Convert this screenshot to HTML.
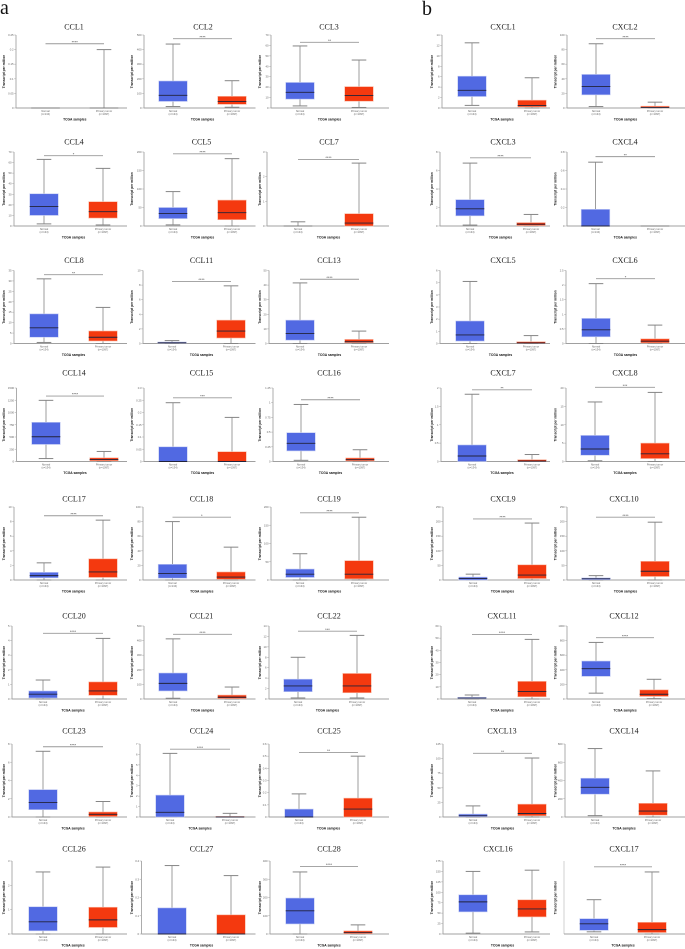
<!DOCTYPE html>
<html lang="en">
<head>
<meta charset="utf-8">
<title>CCL and CXCL transcript expression box plots</title>
<style>
html,body{margin:0;padding:0;background:#fff;width:685px;height:949px;overflow:hidden}
svg{display:block;filter:blur(.2px)}
.title{font-family:"Liberation Serif",serif;font-size:8px;fill:#222;text-anchor:middle}
.letter{font-family:"Liberation Serif",serif;font-size:20px;fill:#111}
.tick{font-family:"Liberation Sans",sans-serif;font-size:2.8px;fill:#666;text-anchor:end}
.cat{font-family:"Liberation Sans",sans-serif;font-size:2.6px;fill:#666;text-anchor:middle}
.xt{font-family:"Liberation Sans",sans-serif;font-size:3.3px;font-weight:bold;fill:#111;text-anchor:middle}
.yt{font-family:"Liberation Sans",sans-serif;font-size:3.3px;font-weight:bold;fill:#111;text-anchor:middle}
.sig{font-family:"Liberation Sans",sans-serif;font-size:4px;fill:#444;text-anchor:middle}
</style>
</head>
<body>
<svg id="figure" xmlns="http://www.w3.org/2000/svg" width="685" height="949" viewBox="0 0 685 949">
<rect width="685" height="949" fill="#fff"/>
<text class="letter" x="0" y="14">a</text>
<text class="letter" x="422" y="15">b</text>
</svg>
<script>
/* ---------- data (row by row, five charts per row) ---------- */
const geneNames = [
  'CCL1','CCL2','CCL3','CXCL1','CXCL2',
  'CCL4','CCL5','CCL7','CXCL3','CXCL4',
  'CCL8','CCL11','CCL13','CXCL5','CXCL6',
  'CCL14','CCL15','CCL16','CXCL7','CXCL8',
  'CCL17','CCL18','CCL19','CXCL9','CXCL10',
  'CCL20','CCL21','CCL22','CXCL11','CXCL12',
  'CCL23','CCL24','CCL25','CXCL13','CXCL14',
  'CCL26','CCL27','CCL28','CXCL16','CXCL17'
];
const categories = ['Normal','Primary tumor'];
const categoryCounts = ['(n=134)','(n=1097)'];
const yMaxValues = [
  0.25,500,70,14,100,
  70,200,3,8,0.8,
  35,10,50,6,2.5,
  1500,0.3,1.25,2,20,
  10,100,200,250,250,
  5,500,14,60,1000,
  8,7,0.6,125,800,
  3,0.4,400,175,100
];
const tickSteps = [
  0.05,100,10,2,20,
  10,50,1,2,0.2,
  5,2,10,1,0.5,
  250,0.05,0.25,0.5,5,
  2,20,50,50,50,
  1,100,2,10,200,
  2,1,0.1,25,200,
  1,0.1,100,25,0
];
/* each box: [min, q1, median, q3, max] */
const normalBoxes = [
  [0,0,0,0,0],[10,45,87,185,438],[2,8.5,15,24.5,59.5],[0.5,2.2,3.4,6.1,12.5],[2,18,29.5,46,88],
  [2,10,18.5,30.5,63],[3,20,34,50,93],[0,0,0,0,0.17],[0.1,1.1,1.86,2.85,6.8],[0,0,0,0.18,0.69],
  [0.5,3,7.5,14.2,31],[0,0.05,0.1,0.2,0.4],[0,2.3,6.8,16,41.5],[0,0.2,0.7,1.85,5.1],[0,0.23,0.47,0.86,2.05],
  [60,348,505,800,1248],[0,0,0,0.06,0.24],[0.02,0.18,0.31,0.49,0.97],[0,0,0.15,0.45,1.83],[0.2,1.7,3.4,7.1,16.2],
  [0,0.3,0.6,1.05,2.35],[0,2.5,9,21.5,80],[0,7,16,30,72],[0,0,5,10,20],[0,1,4,7,15],
  [0,0.07,0.33,0.55,1.3],[5,55,107,178,412],[0.2,1.4,2.5,3.8,8],[0,0.3,0.8,1.4,3.3],[80,310,415,520,775],
  [0,0.8,1.6,3,7.2],[0,0,0.45,2.1,6.1],[0,0,0,0.065,0.19],[0,0.5,2,5,19],[15,250,325,425,750],
  [0,0.13,0.5,1.12,2.55],[0,0,0,0.143,0.375],[0,55,127,197,340],[2,53,77,94,150],[3,5,14,21,47]
];
const tumorBoxes = [
  [0,0,0,0,0.2],[5,25,45,80,187],[0.5,6.5,12,20.5,46],[0,0.2,0.5,1.5,5.8],[0,0.2,0.8,2.5,8],
  [1,7.5,13.5,23,54.5],[0,17,36,70,182],[0,0,0.12,0.5,2.55],[0,0.05,0.2,0.37,1.25],[0,0,0,0,0],
  [0,1.2,3,6,17.3],[0,0.75,1.7,3.2,7.9],[0,0.5,1.2,2.8,8.5],[0,0.02,0.05,0.15,0.65],[0,0.02,0.08,0.16,0.63],
  [0,15,40,75,205],[0,0,0,0.04,0.18],[0,0.01,0.03,0.06,0.2],[0,0,0.01,0.05,0.19],[0,0.8,2.1,5,18.8],
  [0,0.35,1.1,2.9,8.2],[0,1,4,11,45],[0,3,16,53,172],[0,5,17,52,195],[0,12,30,64,198],
  [0,0.25,0.55,1.17,4.15],[0,3,12,27,82],[0.2,1.2,2.5,4.9,12.2],[0,1.8,6.2,14.5,49],[5,35,65,125,270],
  [0,0.05,0.3,0.55,1.7],[0,0,0,0.05,0.35],[0,0,0.065,0.155,0.5],[0,2,6,22,101],[0,20,65,150,505],
  [0,0.27,0.58,1.1,2.75],[0,0,0,0.105,0.32],[0,2,7,17,50],[5,41,60,82,153],[0,2,6,16,85]
];
const significanceLabels = [
  '****','****','**','','****',
  '*','****','****','****','**',
  '**','****','****','','*',
  '****','***','****','**','***',
  '****','*','****','****','****',
  '****','****','***','****','****',
  '****','****','**','**','',
  '','','****','','****'
];
const significanceLevels = [
  0.22,475,63,0,95,
  66.5,195,2.7,7.37,0.75,
  33,8.5,44,0,2.22,
  1335,0.26,1.05,1.95,20.2,
  8.8,86,184,209,215,
  4.5,443,13,53,840,
  7.7,6.5,0.53,109,0,
  0,0,370,0,92
];

/* ---------- page layout (panel frames, not data) ---------- */
const rowFrames = [[35,108],[152,226],[270.5,343.5],[388,461.5],[507,580],[626,699],[744,817],[861,934]];
const rowTitleY = [29.7,144.6,262.8,375.6,501.6,618.6,733.6,851.6];
const columnRight = [127,255.5,389,550,685];
const columnTitleX = [74,201.5,329,503,624];
const columnYTitleX = [3.8,131.8,259.8,431.8,555.2];
const titleShift = {CCL2:1.5,CXCL16:-5,CXCL11:-1,CXCL13:-1,CXCL2:1,CXCL4:1,CXCL6:1,CXCL8:1};
/* [axis x, first band centre, last band centre] */
const panelFrames = [
  [16,45.5,104],[144,173,232],[271,300,359],[442,472,532],[567,596,655],
  [14,44,103],[144,173,232],[267,298,359],[440,470,531],[567,595.5,655],
  [14,44,103],[143,172,231],[269,300,359],[440,470,531],[566,596,655],
  [16.5,46,104],[144,173,232],[273,301,360],[441,472,532],[566,595,655],
  [14,44,103],[143,172.5,231],[271,300,359],[443,473,532],[567,596,655],
  [12,43,103],[144,173,232],[269,298,357],[441,472,532],[567,596,654],
  [12,43,103],[140,170,230],[269,299,358],[443,473,532],[565,595,653],
  [12,43,103],[141.5,172,231],[270,300,358],[443,473,532],[564,594,652]
];
const boxStyles = [
  {fill:'#5169e2',edge:'#c3cbf4'},
  {fill:'#f4390f',edge:'#fbb9a4'}
];

const svgNS = 'http://www.w3.org/2000/svg';
const figure = document.getElementById('figure');

function draw(parent, tag, props, content) {
  const node = document.createElementNS(svgNS, tag);
  Object.keys(props).forEach(function (k) { node.setAttribute(k, props[k]); });
  if (content !== undefined) node.textContent = content;
  parent.appendChild(node);
  return node;
}
function formatTick(v) {
  return String(+v.toFixed(2));
}

geneNames.forEach(function (gene, idx) {
  const row = Math.floor(idx / 5);
  const col = idx % 5;
  const top = rowFrames[row][0];
  const bottom = rowFrames[row][1];
  const axisX = panelFrames[idx][0];
  const centerA = panelFrames[idx][1];
  const centerB = panelFrames[idx][2];
  const rightX = columnRight[col];
  const titleX = columnTitleX[col] + (titleShift[gene] || 0);
  const yMax = yMaxValues[idx];
  const step = tickSteps[idx];

  /* axis functions */
  const yScale = function (v) { return bottom - (v / yMax) * (bottom - top); };
  const xScale = function (i) { return centerA + i * (centerB - centerA); };

  const g = draw(figure, 'g', {});
  
  

  const title = draw(g, 'text', {class:'title', x:titleX, y:rowTitleY[row]}, gene);
  
  

  const yAxis = draw(g, 'line', {x1:axisX, x2:axisX, y1:top, y2:bottom, stroke:gene === 'CXCL17' ? '#ccc' : '#a4a4a4', 'stroke-width':0.9});
  
  

  const xAxis = draw(g, 'line', {x1:axisX, x2:rightX, y1:bottom, y2:bottom, stroke:'#a0a0a0', 'stroke-width':1.1});
  
  

  if (step > 0) {
    const tickCount = Math.round(yMax / step);
    for (let t = 0; t <= tickCount; t++) {
      const value = t * step;
      const tickMark = draw(g, 'line', {x1:axisX - 1.8, x2:axisX, y1:yScale(value), y2:yScale(value), stroke:'#aaa', 'stroke-width':0.6});
      
      
      const tickLabel = draw(g, 'text', {class:'tick', x:axisX - 2.4, y:yScale(value) + 1}, formatTick(value));
      
      
    }
  }

  const yTitle = draw(g, 'text', {class:'yt', transform:'translate(' + (columnYTitleX[col] + 1.1) + ' ' + (top + bottom) / 2 + ') rotate(-90)'}, 'Transcript per million');
  
  

  const xTitle = draw(g, 'text', {class:'xt', x:(centerA + centerB) / 2, y:bottom + 12.5}, 'TCGA samples');
  
  

  [normalBoxes[idx], tumorBoxes[idx]].forEach(function (stats, i) {
    const cx = xScale(i);
    const style = boxStyles[i];
    const whisker = draw(g, 'line', {x1:cx, x2:cx, y1:yScale(stats[0]), y2:yScale(stats[4]), stroke:'#929292', 'stroke-width':0.9});
    
    

    const capTop = draw(g, 'line', {x1:cx - 7.3, x2:cx + 7.3, y1:yScale(stats[4]), y2:yScale(stats[4]), stroke:'#858585', 'stroke-width':1});
    
    

    const capBottom = draw(g, 'line', {x1:cx - 7.3, x2:cx + 7.3, y1:yScale(stats[0]), y2:yScale(stats[0]), stroke:'#858585', 'stroke-width':1});
    
    

    const height = yScale(stats[1]) - yScale(stats[3]);
    if (height > 0) {
      const box = draw(g, 'rect', {x:cx - 14.3, y:yScale(stats[3]), width:28.6, height:height, fill:style.fill, stroke:style.edge, 'stroke-width':0.6});
      
      
    }

    const median = draw(g, 'line', {x1:cx - 14.3, x2:cx + 14.3, y1:yScale(stats[2]), y2:yScale(stats[2]), stroke:height > 0 ? '#22233a' : '#777', 'stroke-width':0.9});
    
    

    const catLabel = draw(g, 'text', {class:'cat', x:cx, y:bottom + 4.2}, categories[i]);
    
    

    const catCount = draw(g, 'text', {class:'cat', x:cx, y:bottom + 7}, categoryCounts[i]);
    
    
  });

  if (significanceLabels[idx]) {
    const sigY = yScale(significanceLevels[idx]);
    const sigBar = draw(g, 'line', {x1:xScale(0), x2:xScale(1), y1:sigY, y2:sigY, stroke:'#999', 'stroke-width':0.9});
    
    
    const sigText = draw(g, 'text', {class:'sig', x:(xScale(0) + xScale(1)) / 2, y:sigY - 0.35}, significanceLabels[idx]);
    
    
  }
});
</script>
</body>
</html>
